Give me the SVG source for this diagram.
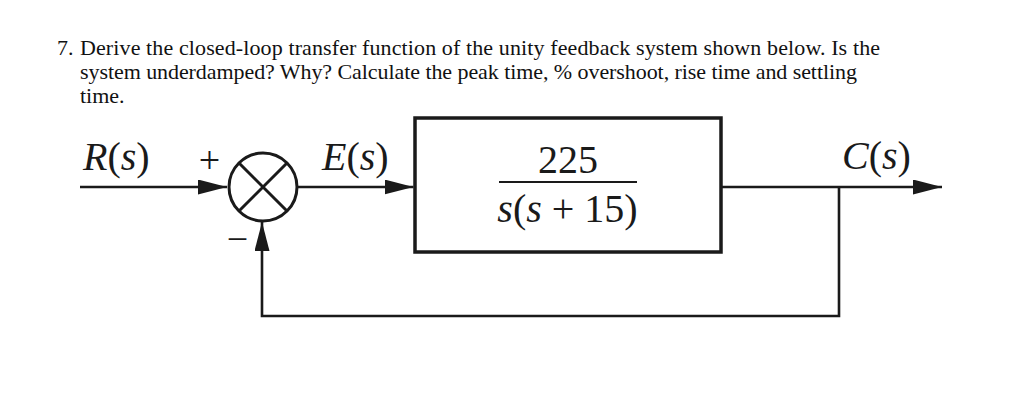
<svg xmlns="http://www.w3.org/2000/svg" width="1024" height="401" viewBox="0 0 1024 401">
  <style>
    .q { font-family: "Liberation Serif", "Times New Roman", serif; font-size: 22px; fill: #111; }
    .lbl { font-family: "Liberation Serif", "Times New Roman", serif; font-size: 40px; fill: #1a1a1a; }
    .it { font-style: italic; }
    .wire { fill: none; stroke: #1a1a1a; stroke-width: 2.6; }
    .sign { font-family: "Liberation Serif", "Times New Roman", serif; font-size: 38px; fill: #1a1a1a; }
  </style>
  <defs>
    <marker id="arr" viewBox="0 0 29 15" refX="29" refY="7.5" markerWidth="29" markerHeight="15" markerUnits="userSpaceOnUse" orient="auto">
      <path d="M0,0 L29,7.5 L0,15 z" fill="#1a1a1a"/>
    </marker>
  </defs>
  <rect width="1024" height="401" fill="#ffffff"/>

  <g id="question">
    <text class="q" x="57" y="55">7.</text>
    <text class="q" x="80" y="55" textLength="800" lengthAdjust="spacing">Derive the closed-loop transfer function of the unity feedback system shown below.  Is the</text>
    <text class="q" x="80" y="79" textLength="777" lengthAdjust="spacing">system underdamped? Why? Calculate the peak time, % overshoot, rise time and settling</text>
    <text class="q" x="80" y="103">time.</text>
  </g>

  <g id="connectors">
    <path class="wire" d="M80,187 H227" marker-end="url(#arr)"/>
    <path class="wire" d="M297,187 H413.5" marker-end="url(#arr)"/>
    <path class="wire" d="M722,187 H942" marker-end="url(#arr)"/>
    <path class="wire" d="M839,187 V316 H262 V222" marker-end="url(#arr)"/>
  </g>

  <g id="sum">
    <circle cx="263" cy="187" r="34" fill="none" stroke="#1a1a1a" stroke-width="3"/>
    <path d="M239,163 L287,211 M287,163 L239,211" stroke="#1a1a1a" stroke-width="3" fill="none"/>
    <text class="sign" x="209.5" y="173" text-anchor="middle">+</text>
    <text class="sign" x="237.5" y="252" text-anchor="middle">−</text>
  </g>

  <g id="plant">
    <rect x="415" y="118" width="306" height="134" fill="none" stroke="#1a1a1a" stroke-width="3.5"/>
    <text class="lbl" x="568" y="172.5" text-anchor="middle">225</text>
    <line x1="499" y1="182" x2="637" y2="182" stroke="#1a1a1a" stroke-width="2.2"/>
    <text class="lbl" x="567.5" y="221.5" text-anchor="middle"><tspan class="it">s</tspan>(<tspan class="it">s</tspan> + 15)</text>
  </g>

  <g id="labels">
    <text id="R" class="lbl" x="83" y="170"><tspan class="it">R</tspan>(<tspan class="it">s</tspan>)</text>
    <text id="E" class="lbl" x="322" y="170"><tspan class="it">E</tspan>(<tspan class="it">s</tspan>)</text>
    <text id="C" class="lbl" x="842" y="169"><tspan class="it">C</tspan>(<tspan class="it">s</tspan>)</text>
  </g>
</svg>
